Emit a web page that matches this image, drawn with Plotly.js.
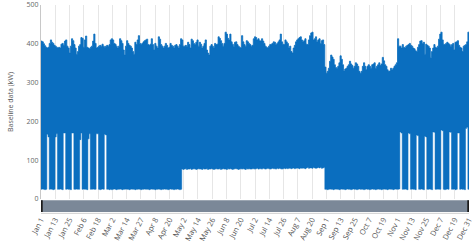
<!DOCTYPE html>
<html>
<head>
<meta charset="utf-8">
<script src="https://cdn.plot.ly/plotly-3.0.1.min.js"></script>
<style>html,body{margin:0;padding:0;background:#fff;}#chart{width:474px;height:242px;}</style>
</head>
<body>
<div id="chart"></div>
<script>
// Daily maximum of baseline load (kW), per month
const maxJan = [407,405,400,395,391,389,391,401,410,404,401,396,394,391,389,391,389,399,401,396,407,410,394,389,376,394,413,408,398,389,373];
const maxFeb = [380,394,398,416,414,391,410,420,391,389,387,391,394,407,425,401,389,391,394,396,394,399,394,391,394,396,394,398];
const maxMar = [410,413,410,401,399,394,389,394,413,408,401,384,371,394,408,401,396,394,389,380,373,404,398,410,421,401,399,401,405,408,410];
const maxApr = [412,398,396,399,413,398,384,401,394,389,418,412,398,394,389,394,401,396,389,391,401,396,394,389,396,398,394,389,398,413];
const maxMay = [410,394,394,396,394,404,398,389,412,408,401,398,404,410,394,404,399,389,394,401,410,384,376,371,394,398,394,389,401,398,399];
const maxJun = [418,414,408,401,394,401,430,425,414,410,425,405,399,394,404,405,398,394,391,389,421,405,398,394,408,405,401,398,394,396];
const maxJul = [413,418,416,410,413,408,407,413,407,401,394,391,389,394,398,399,401,405,404,398,401,405,410,425,405,399,398,410,405,401,389];
const maxAug = [394,380,376,389,396,405,410,413,416,418,410,405,408,413,399,398,410,421,428,430,410,413,418,405,410,413,401,408,410,398,340];
const maxSep = [324,329,337,355,371,366,360,346,339,337,342,351,369,360,346,330,335,337,342,346,355,348,344,337,342,351,348,342,329,324];
const maxOct = [329,342,351,342,333,342,346,342,337,346,348,351,337,342,346,351,344,348,365,356,346,342,333,329,330,337,333,337,342,346,351];
const maxNov = [413,394,394,389,398,391,389,394,396,398,401,396,394,389,387,382,380,391,398,407,408,401,404,373,399,396,394,389,365,380];
const maxDec = [389,398,391,389,394,412,425,430,410,399,398,401,404,401,398,394,398,401,384,404,405,408,396,391,389,380,394,396,398,405,430];

// Daily minimum of baseline load (kW), per month
const minJan = [25,26,25,24,25,167,160,25,26,25,24,25,160,168,25,25,26,25,24,170,170,25,26,25,25,24,170,170,25,25,26];
const minFeb = [25,25,153,170,25,26,25,25,24,155,168,25,25,26,25,25,168,168,25,24,25,26,25,167,165,25,25,24];
const minMar = [25,24,25,26,25,24,25,25,26,25,24,25,25,26,25,25,24,25,26,25,25,24,25,25,26,25,24,25,25,26,25];
const minApr = [25,25,24,25,26,25,25,24,25,25,26,25,24,25,25,26,25,25,24,25,26,25,25,24,25,25,26,25,24,25];
const minMay = [77,76,77,78,76,77,77,78,76,77,78,77,76,77,78,77,77,76,78,77,77,78,76,77,77,78,77,76,77,78,77];
const minJun = [77,78,76,77,78,77,77,76,78,77,78,77,76,77,78,78,77,76,77,78,77,78,77,76,78,77,78,77,77,78];
const minJul = [78,77,78,79,77,78,78,77,79,78,77,78,79,78,77,78,79,78,78,77,79,78,79,78,77,78,79,78,79,78,79];
const minAug = [79,78,79,80,78,79,80,79,78,80,79,80,79,78,80,81,79,80,80,79,81,80,79,80,81,80,81,79,80,81,25];
const minSep = [25,24,25,26,25,25,24,25,26,25,25,24,25,26,25,25,24,25,26,25,25,24,25,26,25,25,24,25,26,25];
const minOct = [25,25,24,25,26,25,25,24,25,26,25,25,24,25,26,25,25,24,25,26,25,25,24,25,26,25,25,24,25,26,25];
const minNov = [25,26,173,170,25,25,26,25,24,170,168,25,26,25,25,24,165,163,25,25,26,25,24,162,160,25,25,26,25,24];
const minDec = [173,172,25,25,26,25,25,178,176,25,24,25,26,25,173,172,25,25,26,24,25,170,170,25,26,25,25,24,182,185,25];

const tickLabels = ['Jan 1','Jan 13','Jan 25','Feb 6','Feb 18','Mar 2','Mar 14','Mar 27','Apr 8','Apr 20','May 2','May 14','May 26','Jun 8','Jun 20','Jul 2','Jul 14','Jul 26','Aug 7','Aug 20','Sep 1','Sep 13','Sep 25','Oct 7','Oct 19','Nov 1','Nov 13','Nov 25','Dec 7','Dec 19','Dec 31'];
const yTicks = [0,100,200,300,400,500];

const maxMonths = [maxJan,maxFeb,maxMar,maxApr,maxMay,maxJun,maxJul,maxAug,maxSep,maxOct,maxNov,maxDec];
const minMonths = [minJan,minFeb,minMar,minApr,minMay,minJun,minJul,minAug,minSep,minOct,minNov,minDec];

const pad = n => (n < 10 ? '0' : '') + n;
const xs = [], yMax = [], yMin = [];
maxMonths.forEach((arr, m) => {
  arr.forEach((v, d) => {
    xs.push('2018-' + pad(m + 1) + '-' + pad(d + 1));
    yMax.push(v);
    yMin.push(minMonths[m][d]);
  });
});
const endDate = '2018-12-31 23:00';
xs.push(endDate); yMax.push(yMax[yMax.length - 1]); yMin.push(yMin[yMin.length - 1]);

const startMs = Date.UTC(2018, 0, 1), endMs = Date.UTC(2018, 11, 31, 22, 50);
const tickVals = tickLabels.map((t, k) => new Date(startMs + k * (endMs - startMs) / (tickLabels.length - 1)).toISOString().replace('T', ' ').slice(0, 19));

const blue = '#0a6ebf';
const traces = [
  {x: xs, y: yMin, type: 'scatter', mode: 'lines', line: {color: blue, width: 0.5, shape: 'hv'}, hoverinfo: 'skip', showlegend: false},
  {x: xs, y: yMax, type: 'scatter', mode: 'lines', fill: 'tonexty', fillcolor: blue, line: {color: blue, width: 0.8, shape: 'hv'}, showlegend: false}
];

const layout = {
  width: 474, height: 242,
  margin: {l: 41, r: 5, t: 5, b: 43},
  paper_bgcolor: '#fff', plot_bgcolor: '#fff',
  font: {family: 'Open Sans, sans-serif', color: '#666'},
  showlegend: false,
  xaxis: {
    type: 'date',
    range: ['2018-01-01', endDate],
    tickmode: 'array', tickvals: tickVals, ticktext: tickLabels,
    tickangle: -62, tickfont: {size: 7.5, color: '#555'},
    ticklabelstandoff: 14, ticklabeloverflow: 'allow',
    showgrid: true, gridcolor: '#e6e6e6', gridwidth: 1,
    zeroline: false, showline: false, ticks: ''
  },
  yaxis: {
    range: [0, 500], tickvals: yTicks,
    tickfont: {size: 7, color: '#666'},
    showgrid: false, zeroline: false,
    showline: true, linecolor: '#c8c8c8', linewidth: 1, ticks: '',
    title: {text: 'Baseline data (kW)', font: {size: 7, color: '#555'}, standoff: 12}
  },
  shapes: [
    {type: 'rect', xref: 'paper', yref: 'paper', x0: 0, x1: 1, y0: -0.067, y1: -0.006, fillcolor: '#7b8898', line: {width: 0}, layer: 'above'},
    {type: 'rect', xref: 'paper', yref: 'paper', x0: 0, x1: 0.004, y0: -0.067, y1: -0.006, fillcolor: '#1a1a1a', line: {width: 0}, layer: 'above'},
    {type: 'rect', xref: 'paper', yref: 'paper', x0: 0.996, x1: 1, y0: -0.067, y1: -0.006, fillcolor: '#1a1a1a', line: {width: 0}, layer: 'above'},
    {type: 'line', xref: 'paper', yref: 'paper', x0: 0, x1: 1, y0: -0.074, y1: -0.074, line: {color: '#d0d0d0', width: 1}, layer: 'above'}
  ]
};

Plotly.newPlot('chart', traces, layout, {displayModeBar: false, staticPlot: true});
</script>
</body>
</html>
